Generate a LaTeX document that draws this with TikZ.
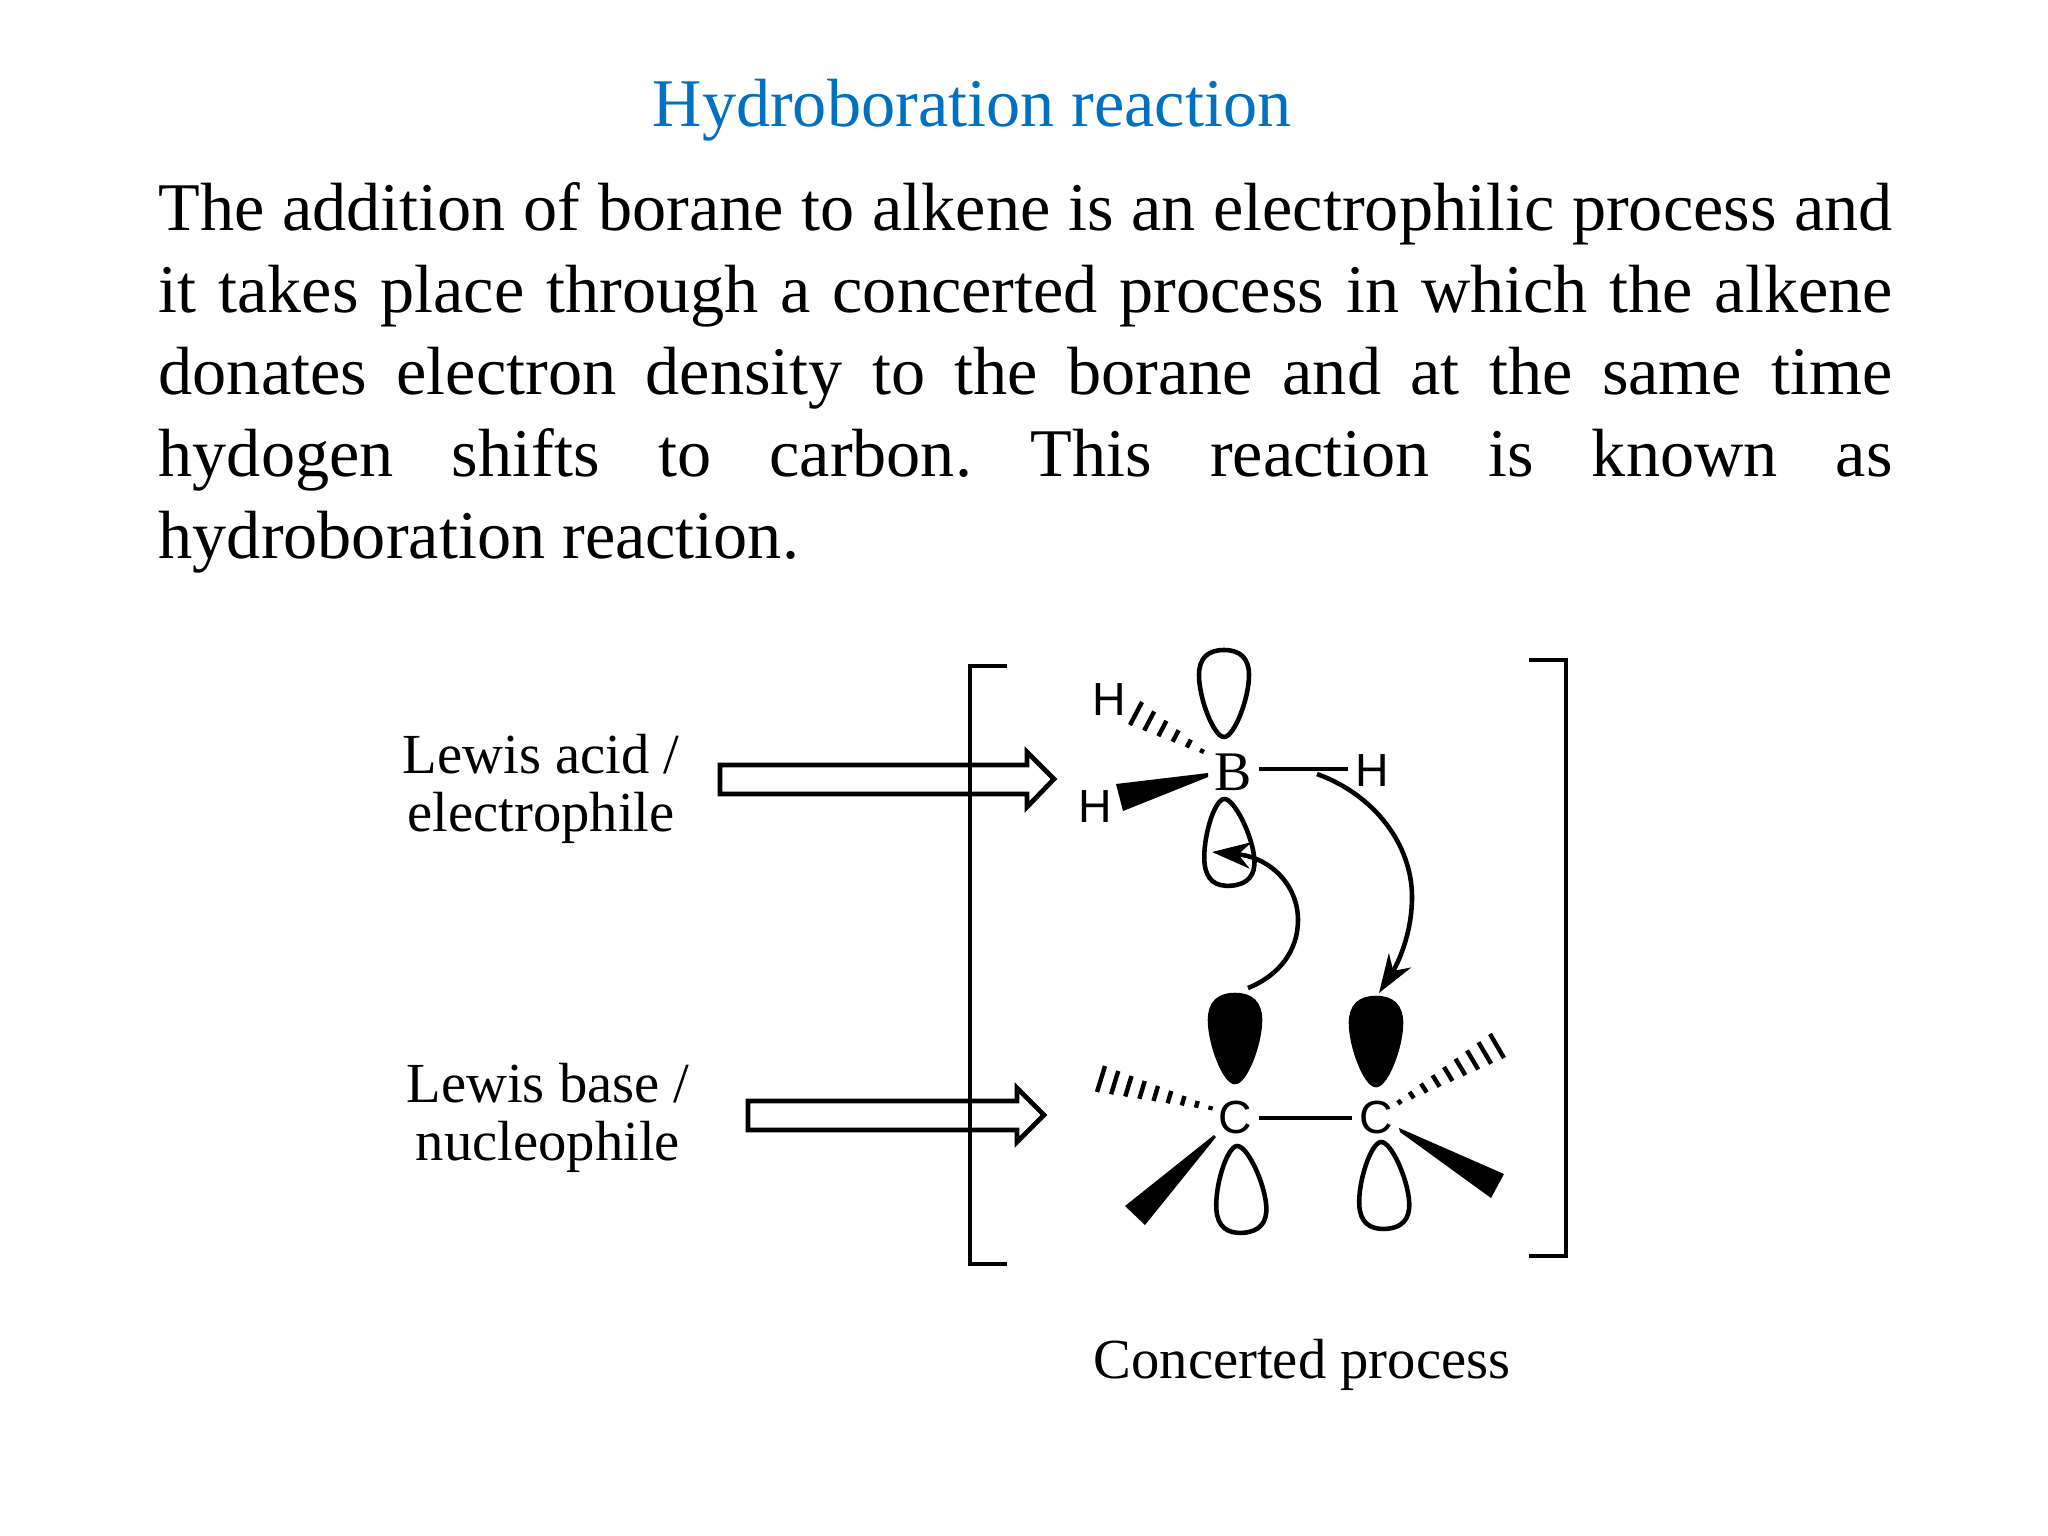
\documentclass[tikz,border=0pt]{standalone}
\usepackage{fontspec}
\setmainfont{Liberation Serif}
\setsansfont{Liberation Sans}
\usetikzlibrary{arrows.meta,calc}
\definecolor{myblue}{RGB}{0,112,192}
\tikzset{
  atom/.style={font=\fontsize{13.2}{15}\sffamily,inner sep=1.8pt},
  boron/.style={font=\fontsize{15.9}{18}\selectfont,inner sep=1.8pt},
  caption/.style={font=\fontsize{16.1}{16.3}\selectfont,align=center,inner sep=0pt},
  bond/.style={line width=1.3pt},
  hashline/.style={line width=1.25pt},
  brk/.style={line width=1.35pt},
  blockarrow/.style={line width=1.35pt,line join=miter},
  curly/.style={line width=1.3pt,-{Stealth[length=11pt,width=7.5pt,inset=3.5pt]}},
  lobe/.pic={\draw[line width=1.3pt,pic actions] (0,0) .. controls (-10,0) and (-25,-38) .. (-25,-62) .. controls (-25,-79) and (-16,-87) .. (0,-87) .. controls (16,-87) and (25,-79) .. (25,-62) .. controls (25,-38) and (10,0) .. (0,0) -- cycle;}
}
\newcommand{\hashbond}[5]{\foreach \k in {0,...,#5}{\pgfmathsetmacro\f{\k/#5}\draw[hashline] ($#1!\f!#3$) -- ($#2!\f!#4$);}}
\begin{document}
\begin{tikzpicture}[x=0.01cm,y=-0.01cm]
\useasboundingbox (0,0) rectangle (2048,1536);
\node[font=\fontsize{19.4}{23}\selectfont,myblue,inner sep=0pt] (title) at (972,110) {Hydroboration reaction};
\node[font=\fontsize{19.4}{23.3}\selectfont\frenchspacing,anchor=north west,inner sep=0pt,text width=17.33cm,align=justify] (para) at (158,182) {The addition of borane to alkene is an electrophilic process and\linebreak it takes place through a concerted process in which the alkene\linebreak donates electron density to the borane and at the same time\linebreak hydogen shifts to carbon. This reaction is known as\linebreak hydroboration reaction.};
\node[caption] (acid) at (541,789) {Lewis acid /\\electrophile};
\node[caption] (base) at (548,1118) {Lewis base /\\nucleophile};
\node[caption] (conc) at (1302,1365) {Concerted process};
\draw[blockarrow] (720,765) -- (1027,765) -- (1027,752) -- (1054,779) -- (1027,807) -- (1027,794) -- (720,794) -- cycle;
\draw[blockarrow] (748,1101) -- (1017,1101) -- (1017,1088) -- (1044,1115) -- (1017,1142) -- (1017,1130) -- (748,1130) -- cycle;
\draw[brk] (1007,666) -- (970,666) -- (970,1264) -- (1007,1264);
\draw[brk] (1529,660) -- (1566,660) -- (1566,1256) -- (1529,1256);
\node[boron] (B) at (1233,772) {B};
\node[atom] (Hr) at (1372,771) {H};
\node[atom] (Ht) at (1109,700) {H};
\node[atom] (Hl) at (1095,807) {H};
\node[atom] (Ca) at (1235,1118) {C};
\node[atom] (Cb) at (1376,1118) {C};
\draw[bond] ([yshift=0.02cm]Hr.west) -- ([yshift=0.02cm]Hr.west -| B.east);
\draw[bond] (Ca.east) -- (Cb.west);
\pic at (1224,737) {lobe};
\pic[yscale=-1,rotate=-5] at (1224,799) {lobe};
\pic[fill=black] at (1235,1082) {lobe};
\pic[fill=black] at (1376,1085) {lobe};
\pic[yscale=-1,rotate=-4] at (1237,1146) {lobe};
\pic[yscale=-1,rotate=-3] at (1381,1142) {lobe};
\fill (1208,773) -- (1116,784) -- (1123,811) -- (1208,777) -- cycle;
\fill (1214,1135) -- (1125,1206) -- (1145,1225) -- (1216,1137) -- cycle;
\fill (1399,1128) -- (1504,1174) -- (1491,1198) -- (1400,1132) -- cycle;
\hashbond{(1203,749)}{(1201,753)}{(1142,702)}{(1130,725)}{5}
\hashbond{(1211,1106)}{(1210,1110)}{(1105,1066)}{(1097,1092)}{8}
\hashbond{(1398,1100)}{(1401,1104)}{(1490,1034)}{(1504,1058)}{8}
\coordinate (hsrc) at (1317,774);
\coordinate (ctop) at (1379,993);
\coordinate (psrc) at (1248,988);
\coordinate (ptop) at (1212,852);
\draw[curly] (hsrc) .. controls (1375,795) and (1412,845) .. (1412,897) .. controls (1412,935) and (1397,965) .. (ctop);
\draw[curly] (psrc) .. controls (1280,975) and (1298,950) .. (1298,920) .. controls (1298,885) and (1270,857) .. (ptop);
\end{tikzpicture}
\end{document}
